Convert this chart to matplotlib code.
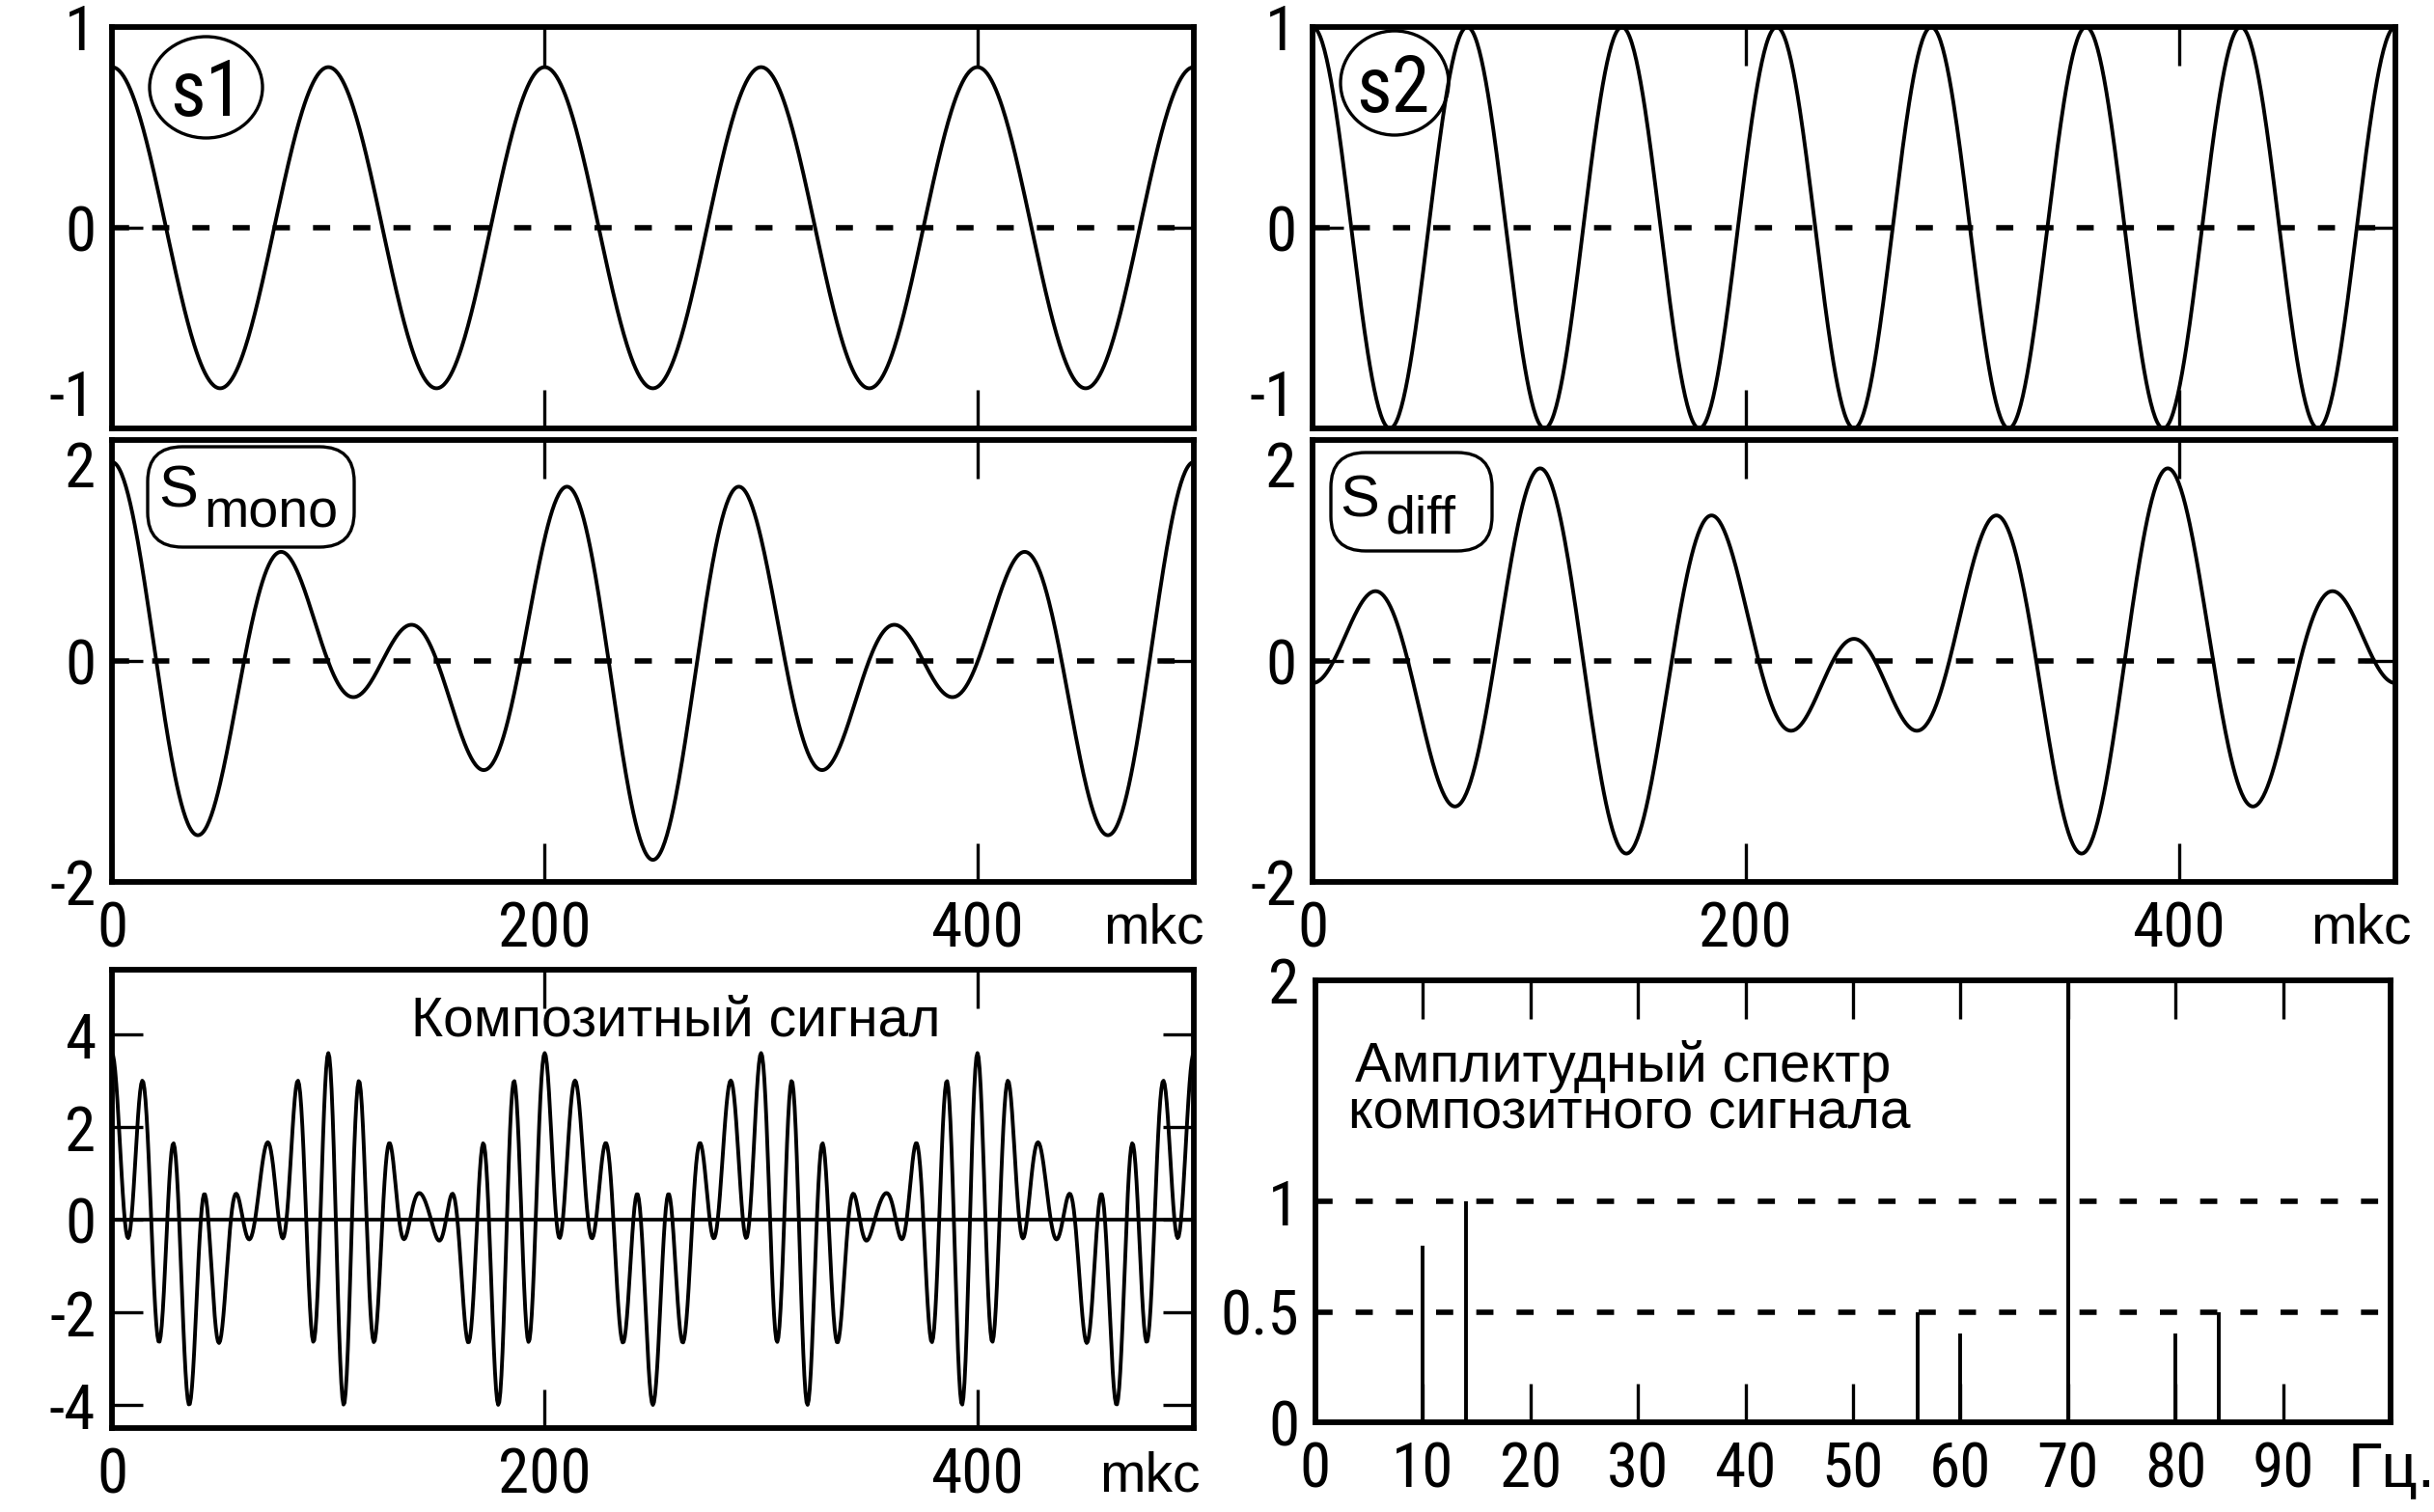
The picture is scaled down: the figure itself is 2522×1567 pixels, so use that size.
import numpy as np
import matplotlib
matplotlib.use('Agg')
import matplotlib.pyplot as plt
from matplotlib import font_manager
from matplotlib.patches import Ellipse, FancyBboxPatch

# --- data ---
# tone components, kHz / amplitude
f1, a1 = 10, 0.8      # s1
f2, a2 = 14, 1.0      # s2
fc, ac = 70, 2.0      # subcarrier
t_mkc = np.arange(0, 500.5, 0.5)

# amplitude spectrum of the composite signal
spec_freq = [10, 14, 56, 60, 70, 80, 84]
spec_amp = [0.8, 1.0, 0.5, 0.4, 2.0, 0.4, 0.5]
spec_levels = [0.5, 1]

time_ticks = [0, 200, 400]
spec_xticks = [0, 10, 20, 30, 40, 50, 60, 70, 80, 90]
spec_yticks = [0, 0.5, 1, 2]
comp_yticks = [-4, -2, 0, 2, 4]

s1 = a1 * np.cos(2 * np.pi * f1 * t_mkc / 1000)
s2 = a2 * np.cos(2 * np.pi * f2 * t_mkc / 1000)
s_mono = s1 + s2
s_diff = s1 - s2
carrier = np.cos(2 * np.pi * fc * t_mkc / 1000)
composite = s_mono + s_diff * carrier + ac * carrier

# --- fonts ---
def has_font(name):
    try:
        font_manager.findfont(name, fallback_to_default=False)
        return True
    except Exception:
        return False

# narrow face for the digits, plain one for words
NARROW = 'Liberation Sans'
for name in ['Liberation Sans Narrow', 'Roboto Condensed']:
    if has_font(name):
        NARROW = name
        break
SANS = 'Liberation Sans'
plt.rcParams['font.family'] = [NARROW, 'DejaVu Sans']
plt.rcParams['axes.unicode_minus'] = False

W, H = 2522, 1567
fig = plt.figure(figsize=(W / 100, H / 100), dpi=100)

def px_axes(x0, y0, x1, y1):
    return fig.add_axes([x0 / W, 1 - y1 / H, (x1 - x0) / W, (y1 - y0) / H])

def fx(x):
    return x / W

def fy(y):
    return 1 - y / H

def style(ax, ylen=23):
    for s in ax.spines.values():
        s.set_linewidth(4.2)
    ax.tick_params(direction='in', top=True, right=True, width=2.4,
                   labelsize=47, colors='black')
    ax.tick_params(axis='x', length=29, pad=13.5)
    ax.tick_params(axis='y', length=ylen, pad=12)

DASH = (0, (3.2, 4.3))
LW = 2.8

# top row
ax1 = px_axes(116, 28, 1237, 444)
ax2 = px_axes(1360, 28, 2482, 444)
for ax, sig in ((ax1, s1), (ax2, s2)):
    ax.plot(t_mkc, sig, color='k', lw=LW)
    ax.axhline(0, color='k', lw=4, ls=DASH)
    ax.set_xlim(0, 500)
    ax.set_ylim(-1, 1)
    ax.set_xticks(time_ticks)
    ax.set_xticklabels([])
    ax.set_yticks([-1, 0, 1])
    style(ax)
    ax.get_yticklabels()[0].set_va('bottom')

# middle row
ax3 = px_axes(116, 456, 1237, 914)
ax4 = px_axes(1360, 456, 2482, 914)
for ax, sig in ((ax3, s_mono), (ax4, s_diff)):
    ax.plot(t_mkc, sig, color='k', lw=LW)
    ax.axhline(0, color='k', lw=4, ls=DASH)
    ax.set_xlim(0, 500)
    ax.set_ylim(-2, 2)
    ax.set_xticks(time_ticks)
    ax.set_yticks([-2, 0, 2])
    style(ax)
    ax.get_yticklabels()[-1].set_va('top')

# composite
ax5 = px_axes(116, 1005, 1237, 1480)
ax5.plot(t_mkc, composite, color='k', lw=LW)
ax5.axhline(0, color='k', lw=2.7)
ax5.set_xlim(0, 500)
ax5.set_ylim(-4.5, 5.4)
ax5.set_xticks(time_ticks)
ax5.set_yticks(comp_yticks)
style(ax5)

# spectrum
ax6 = px_axes(1363, 1016, 2477, 1474)
ax6.vlines(spec_freq, 0, spec_amp, color='k', lw=LW)
ax6.hlines(spec_levels, 0, 100, color='k', lw=4, linestyles=[DASH])
ax6.set_xlim(0, 100)
ax6.set_ylim(0, 2)
ax6.set_xticks(spec_xticks)
ax6.set_yticks(spec_yticks)
ax6.set_yticklabels(['0', '0.5', '1', '2'])
style(ax6, ylen=0)

# units
for x, y in ((1248, 978), (2499, 978), (1244, 1545)):
    fig.text(fx(x), fy(y), 'mkc', ha='right', va='baseline', fontsize=41, family=SANS)
fig.text(fx(2433), fy(1540), 'Гц.', ha='left', va='baseline', fontsize=47, family=SANS)

# titles
fig.text(fx(426), fy(1073), 'Композитный сигнал', ha='left', va='baseline',
         fontsize=41, family=SANS)
fig.text(fx(1404), fy(1121), 'Амплитудный спектр', ha='left', va='baseline',
         fontsize=41, family=SANS)
fig.text(fx(1397), fy(1170), 'композитного сигнала', ha='left', va='baseline',
         fontsize=41, family=SANS)

# signal labels
IN = fig.dpi_scale_trans
def ell(cx, cy, w, h):
    fig.add_artist(Ellipse((cx / 100, (H - cy) / 100), w / 100, h / 100,
                           transform=IN, fill=False, ec='k', lw=2.4))

def pill(x0, y0, x1, y1):
    fig.add_artist(FancyBboxPatch((x0 / 100, (H - y1) / 100), (x1 - x0) / 100, (y1 - y0) / 100,
                                  boxstyle='round,pad=0,rounding_size=0.36',
                                  transform=IN, fill=False, ec='k', lw=2.4))

ell(213.5, 90.5, 117, 105)
fig.text(fx(214), fy(120), 's1', ha='center', va='baseline', fontsize=58)
ell(1445, 86, 112, 108)
fig.text(fx(1443), fy(116), 's2', ha='center', va='baseline', fontsize=58)

pill(153, 463, 367, 567)
fig.text(fx(164), fy(525), 'S', ha='left', va='baseline', fontsize=44, family=SANS)
fig.text(fx(211), fy(547), 'mono', ha='left', va='baseline', fontsize=40, family=SANS)
pill(1379, 469, 1546, 571)
fig.text(fx(1388), fy(536), 'S', ha='left', va='baseline', fontsize=44, family=SANS)
fig.text(fx(1436), fy(552), 'diff', ha='left', va='baseline', fontsize=40, family=SANS)

fig.savefig('out.png', dpi=100)
